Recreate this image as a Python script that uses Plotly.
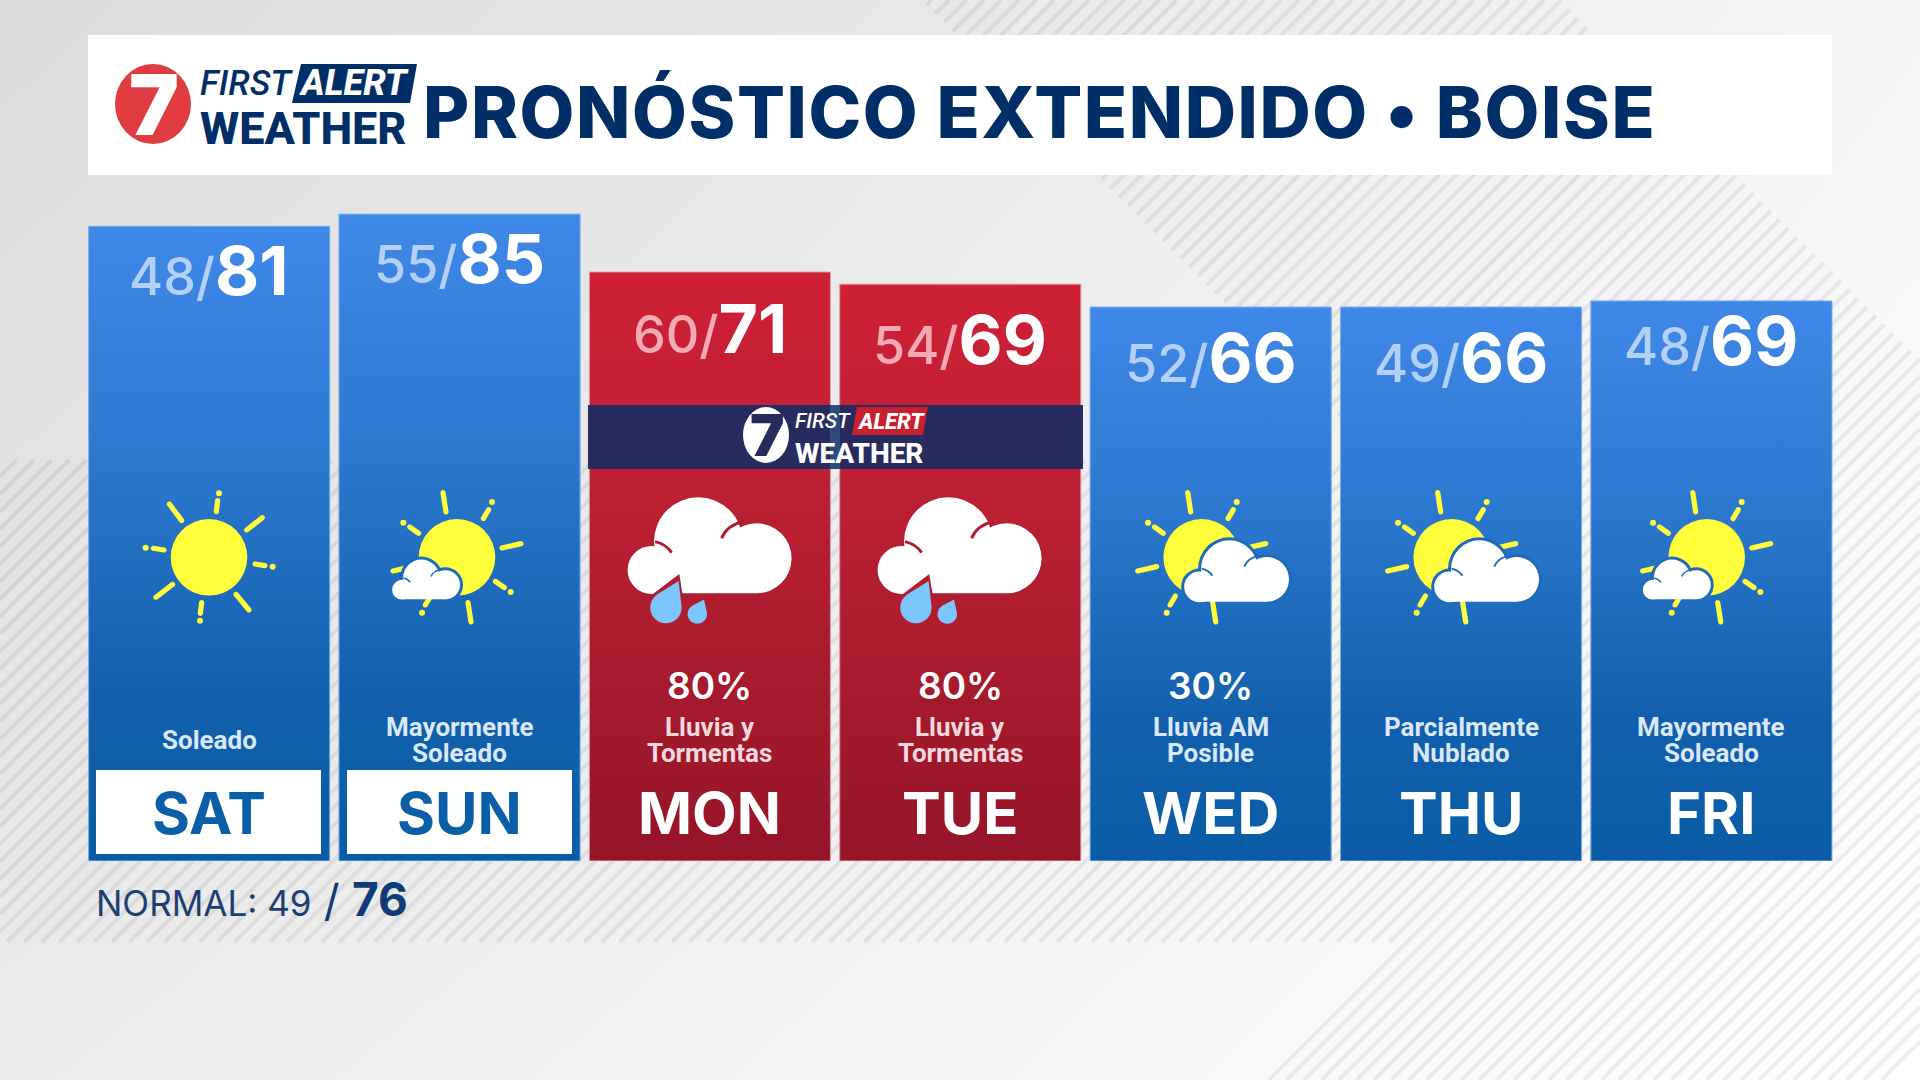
"""First Alert 7-day forecast board (Boise), rebuilt as a plotly figure."""

import math

import plotly.graph_objects as go

W, H = 1920, 1080

DAYS = ["SAT", "SUN", "MON", "TUE", "WED", "THU", "FRI"]
LOWS = [48, 55, 60, 54, 52, 49, 48]
HIGHS = [81, 85, 71, 69, 66, 66, 69]
BAR_LEVELS = [83.4, 85.0, 77.4, 75.8, 72.8, 72.8, 73.6]
PRECIP = ["", "", "80%", "80%", "30%", "", ""]
COND_TOP = ["", "Mayormente", "Lluvia y", "Lluvia y", "Lluvia AM", "Parcialmente", "Mayormente"]
COND_BOTTOM = ["", "Soleado", "Tormentas", "Tormentas", "Posible", "Nublado", "Soleado"]
COND_SINGLE = ["Soleado", "", "", "", "", "", ""]
ALERT_DAYS = ["MON", "TUE"]
BOXED_DAYS = ["SAT", "SUN"]
NORMAL_LOW = 49
NORMAL_HIGH = 76
TITLE = "PRONÓSTICO EXTENDIDO • BOISE"

# layout (pixels on the 1920x1080 board)
BAR_FLOOR = 861
AXIS_TOP_VALUE = 113.14
TEMP_Y = [270, 258, 328, 339, 357, 357, 340]
ICON_X = [209, 457, 627.3, 877.3, 1201.7, 1451.7, 1706.7]
ICON_Y = 557.3

# fillgradient runs bottom to top here
BLUE_STOPS = [[0, "#0a5ca6"], [0.26, "#1260ad"], [0.64, "#2c78cf"], [1, "#4088e8"]]
RED_STOPS = [[0, "#951428"], [0.26, "#a31a2c"], [0.64, "#bd1f34"], [1, "#ce2037"]]
NAVY = "#002e66"
SUN_YELLOW = "#ffff3c"
DROP_BLUE = "#7cc5fd"
SANS = "Inter, sans-serif"
COND = "Roboto, sans-serif"

# rays in 1/3 px relative to the sun centre: (x1, y1, x2, y2)
FULL_SUN_RAYS = [(113, -82, 160, -119), (81, 111, 120, 158), (-109, 81, -159, 120), (-82, -110, -119, -160),
                 (22, -137, 26, -170), (138, 20, 168, 25), (-22, 136, -26, 168), (-135, -22, -167, -27)]
FULL_SUN_DOTS = [(30, -192), (191, 28), (-27, 190), (-190, -29)]
PART_SUN_RAYS = [(-33, -136, -42, -194), (135, -28, 192, -41), (33, 136, 42, 194), (-135, 28, -192, 41),
                 (79, -116, 95, -143), (115, 72, 142, 91), (-79, 116, -95, 143), (-115, -72, -142, -91)]
PART_SUN_DOTS = [(105, -166), (161, 104), (-105, 166), (-161, -104)]

shapes = []
annotations = []


def text(x, y, s, size, color, family=SANS, weight=400, xanchor="center", style="normal", xref="x"):
    annotations.append(dict(
        x=x, y=y, xref=xref, yref="y", text=s, showarrow=False, xanchor=xanchor, yanchor="middle",
        font=dict(size=size, color=color, family=family, weight=weight, style=style),
    ))


def rect(x0, y0, x1, y1, color):
    shapes.append(dict(type="rect", x0=x0, y0=y0, x1=x1, y1=y1, fillcolor=color, line_width=0, layer="above"))


def circle(cx, cy, rx, color, ry=None):
    ry = rx if ry is None else ry
    shapes.append(dict(type="circle", x0=cx - rx, x1=cx + rx, y0=cy - ry, y1=cy + ry,
                       fillcolor=color, line_width=0, layer="above"))


def path(d, color=None, line=None, width=0):
    shapes.append(dict(type="path", path=d, fillcolor=color or "rgba(0,0,0,0)", layer="above",
                       line=dict(color=line or "rgba(0,0,0,0)", width=width)))


def polygon(points, color):
    path("M" + " L".join(f"{x:.2f},{y:.2f}" for x, y in points) + " Z", color)


def arc(cx, cy, r, a0, a1, n=6):
    return [(cx + r * math.cos(a0 + (a1 - a0) * j / n), cy + r * math.sin(a0 + (a1 - a0) * j / n))
            for j in range(n + 1)]


def capsule(x1, y1, x2, y2, r, color):
    t = math.atan2(y2 - y1, x2 - x1)
    polygon(arc(x2, y2, r, t + math.pi / 2, t - math.pi / 2) +
            arc(x1, y1, r, t - math.pi / 2, t - 3 * math.pi / 2), color)


def sun(cx, cy, rays, dots):
    for x1, y1, x2, y2 in rays:
        capsule(cx + x1 / 3, cy + y1 / 3, cx + x2 / 3, cy + y2 / 3, 2.6, SUN_YELLOW)
    for x, y in dots:
        circle(cx + x / 3, cy + y / 3, 3, SUN_YELLOW)
    circle(cx, cy, 38.3, SUN_YELLOW)


def cloud(x0, y0, k, halo, halo_px=4):
    lobes = [(71, -51.7, 44.3), (129.3, -35, 35), (24.3, -23.3, 24)]
    if halo_px:
        for x, y, r in lobes:
            circle(x0 + x * k, y0 + y * k, r * k + halo_px, halo)
    for x, y, r in lobes:
        circle(x0 + x * k, y0 + y * k, r * k, "#ffffff")
    rect(x0 + 24 * k, y0 - 40 * k, x0 + 129 * k, y0, "#ffffff")
    w = max(1.5, 3 * k)
    path(f"M{x0 + 94.3 * k},{y0 - 55 * k} Q{x0 + 99.3 * k},{y0 - 68 * k} {x0 + 116 * k},{y0 - 71.7 * k}", line=halo, width=w)
    path(f"M{x0 + 27.7 * k},{y0 - 51.7 * k} Q{x0 + 38.7 * k},{y0 - 49.3 * k} {x0 + 44.3 * k},{y0 - 40.7 * k}", line=halo, width=w)


def drop(cx, cy, r, tx, ty, color):
    d = math.hypot(tx - cx, ty - cy)
    base = math.atan2(ty - cy, tx - cx)
    a = math.acos(r / d)
    polygon([(tx, ty)] + arc(cx, cy, r, base + a, base - a + 2 * math.pi, n=20), color)


def stripes(poly, period=17.5, phase=4):
    xs, ys = [], []
    lo = min(px + py for px, py in poly)
    hi = max(px + py for px, py in poly)
    c = lo - (lo - phase) % period + period
    while c < hi:
        pts = []
        for (ax, ay), (bx, by) in zip(poly, poly[1:] + poly[:1]):
            sa, sb = ax + ay - c, bx + by - c
            if sa * sb < 0:
                t = sa / (sa - sb)
                pts.append((ax + t * (bx - ax), ay + t * (by - ay)))
        if len(pts) >= 2:
            xs += [pts[0][0], pts[1][0], None]
            ys += [pts[0][1], pts[1][1], None]
        c += period
    return go.Scatter(x=xs, y=ys, mode="lines", line=dict(color="rgba(0,0,0,0.065)", width=4),
                      hoverinfo="skip", showlegend=False, xaxis="x", yaxis="y")


def logo(x_c, y_c, rx, ry, seven_size, disc, seven, first_x, first_y, first_size, first_color,
         box, box_color, alert_x, alert_size, weather_x, weather_y, weather_size, weather_color):
    circle(x_c, y_c, rx, disc, ry)
    text(x_c + 1, y_c, "7", seven_size, seven, weight=900)
    text(first_x, first_y, "FIRST", first_size, first_color, family=COND, weight=500, style="italic", xanchor="left")
    polygon(box, box_color)
    text(alert_x, first_y, "ALERT", alert_size, "#ffffff", family=COND, weight=800, style="italic", xanchor="left")
    text(weather_x, weather_y, "WEATHER", weather_size, weather_color, family=COND, weight=800, xanchor="left")


fig = go.Figure()

# background: soft diagonal grey plus three hatched regions
fig.add_trace(go.Heatmap(
    x=[0, W], y=[0, H], z=[[0xdc, 0xf5], [0xeb, 0xff]], zmin=0, zmax=255, zsmooth="best",
    colorscale=[[0, "#000000"], [1, "#ffffff"]], showscale=False, hoverinfo="skip",
))
fig.add_trace(stripes([(922, 0), (1560, 0), (1920, 360), (1920, 460), (1382, 460)]))
fig.add_trace(stripes([(0, 460), (1920, 460), (1920, 942), (0, 942)]))
fig.add_trace(stripes([(1390, 942), (1920, 942), (1920, 1053), (1893, 1080), (1252, 1080)]))

# bars, then a gradient skin over each one from the same values
BAR_W = 0.963
bar_x = list(range(len(DAYS)))
bar_colors = ["#a31a2c" if d in ALERT_DAYS else "#1260ad" for d in DAYS]
fig.add_trace(go.Bar(x=bar_x, y=BAR_LEVELS, width=BAR_W, marker=dict(color=bar_colors, line_width=0),
                     xaxis="x2", yaxis="y2", hoverinfo="skip", showlegend=False))
for i, (day, level) in enumerate(zip(DAYS, BAR_LEVELS)):
    red = day in ALERT_DAYS
    fig.add_trace(go.Scatter(
        x=[i - BAR_W / 2, i + BAR_W / 2, i + BAR_W / 2, i - BAR_W / 2, i - BAR_W / 2],
        y=[0, 0, level, level, 0], mode="lines", fill="toself",
        fillgradient=dict(type="vertical", colorscale=RED_STOPS if red else BLUE_STOPS),
        line=dict(color="#e3a4ad" if red else "#7db0ee", width=1),
        xaxis="x2", yaxis="y2", hoverinfo="skip", showlegend=False,
    ))

# header strip
rect(88, 35, 1832, 175, "#ffffff")
logo(153, 104, 38, 40, 84, "#e03c41", "#ffffff", 198, 83, 35, NAVY,
     [(301, 64), (417, 64), (410, 103), (292, 103)], NAVY, 297, 36, 198, 128, 45, NAVY)
title = f'<span style="letter-spacing:1.6px">{TITLE}</span>'
text(421, 112, title, 71, NAVY, weight=800, xanchor="left")

# per-day text
for i, day in enumerate(DAYS):
    red = day in ALERT_DAYS
    low_color = "#f2aab4" if red else "#b3d0f7"
    soft = "#f6d9df" if red else "#dbe8fa"
    temps = (f'<span style="font-size:52px;font-weight:500;color:{low_color}">{LOWS[i]}/</span>'
             f'<span style="font-weight:700">{HIGHS[i]}</span>')
    text(i, TEMP_Y[i], temps, 68, "#ffffff", weight=700, xref="x2")
    if PRECIP[i]:
        text(i, 685, PRECIP[i], 37, "#ffffff", weight=600, xref="x2")
    if COND_SINGLE[i]:
        text(i, 740, COND_SINGLE[i], 26, soft, family=COND, weight=700, xref="x2")
    if COND_TOP[i]:
        text(i, 727, COND_TOP[i], 26, soft, family=COND, weight=700, xref="x2")
        text(i, 753, COND_BOTTOM[i], 26, soft, family=COND, weight=700, xref="x2")
    boxed = day in BOXED_DAYS
    text(i, 813, day, 58, "#0b5ea8" if boxed else "#ffffff", weight=700, xref="x2")

rect(96, 770, 321, 854, "#ffffff")
rect(347, 770, 572, 854, "#ffffff")

# icons
sun(ICON_X[0], ICON_Y, FULL_SUN_RAYS, FULL_SUN_DOTS)
for i, cx, cy, k in [(1, 392, 599.3, 0.414), (6, 1642.7, 599.3, 0.414)]:
    sun(ICON_X[i], ICON_Y, PART_SUN_RAYS, PART_SUN_DOTS)
    cloud(cx, cy, k, "#1e6abb", halo_px=3)
for i, cx, cy, k in [(4, 1184, 601.7, 0.639), (5, 1434, 601.7, 0.639)]:
    sun(ICON_X[i], ICON_Y, PART_SUN_RAYS, PART_SUN_DOTS)
    cloud(cx, cy, k, "#1e6abb", halo_px=3)
for i in (2, 3):
    cx = ICON_X[i]
    cloud(cx, 593.3, 1.0, "#b21c2f", halo_px=0)
    drop(cx + 38.6, 607.6, 18.6, cx + 52, 574, "#b21c2f")
    drop(cx + 38.6, 607.6, 15.7, cx + 51.3, 581, DROP_BLUE)
    drop(cx + 70, 614, 9.7, cx + 76.7, 599.5, DROP_BLUE)

# alert banner across MON/TUE
rect(588, 405, 1083, 469, "#282b5e")
rect(830, 405, 840, 469, "#2d4b7e")
logo(766, 435, 23, 28, 58, "#ffffff", "#282b5e", 793, 421, 21, "#ffffff",
     [(857, 407), (928, 407), (923, 435), (852, 435)], "#c8202f", 855, 22, 793, 453, 28, "#ffffff")

# climate normal line
normal = (f'<span style="color:#1c3f72">NORMAL: {NORMAL_LOW}</span>'
          f'<span style="color:#0f3b78;font-size:44px;font-weight:400"> / </span>'
          f'<span style="color:#0f3b78;font-size:46px;font-weight:700">{NORMAL_HIGH}</span>')
text(94, 899, normal, 35, "#1c3f72", xanchor="left")

fig.update_layout(
    width=W, height=H, margin=dict(l=0, r=0, t=0, b=0), showlegend=False,
    paper_bgcolor="#ececec", plot_bgcolor="rgba(0,0,0,0)", barmode="overlay",
    xaxis=dict(range=[0, W], visible=False, fixedrange=True),
    yaxis=dict(range=[H, 0], visible=False, fixedrange=True),
    xaxis2=dict(domain=[83.95 / W, 1836.6 / W], range=[-0.5, 6.5], visible=False, anchor="y2", fixedrange=True),
    yaxis2=dict(domain=[(H - BAR_FLOOR) / H, 1], range=[0, AXIS_TOP_VALUE], visible=False, anchor="x2", fixedrange=True),
    shapes=shapes, annotations=annotations,
)

fig.write_html("out.html", config=dict(displayModeBar=False),
               post_script="document.body.style.margin='0';document.body.style.overflow='hidden';")
